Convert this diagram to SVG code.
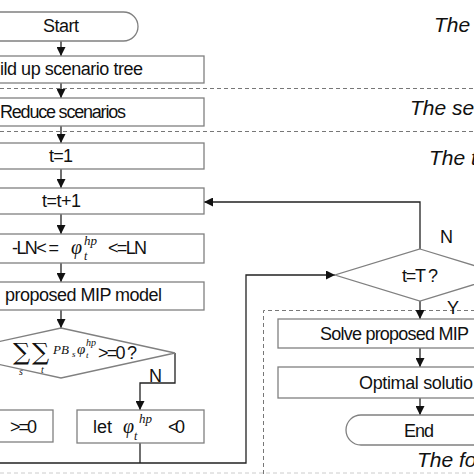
<svg xmlns="http://www.w3.org/2000/svg" width="474" height="474" viewBox="0 0 474 474">
<defs>
<marker id="ah" viewBox="0 0 10 10" refX="10" refY="5" markerWidth="9" markerHeight="9" markerUnits="userSpaceOnUse" orient="auto">
<path d="M0,0 L10,5 L0,10 z" fill="#111"/>
</marker>
</defs>
<style>
.box{fill:#fff;stroke:#808080;stroke-width:1.3}
.conn{fill:none;stroke:#222;stroke-width:1.3}
.dash{fill:none;stroke:#777;stroke-width:1;stroke-dasharray:4 3}
.lt{fill:none;stroke:#ccc;stroke-width:1;stroke-dasharray:4 3}
.t{font-family:"Liberation Sans",Arial,sans-serif;font-size:18px;fill:#111}
.c{text-anchor:middle}
.it{font-family:"Liberation Sans",Arial,sans-serif;font-size:21px;font-style:italic;fill:#111}
.m{font-family:"Liberation Serif","DejaVu Serif",serif;font-style:italic;fill:#111}
.sig{font-family:"DejaVu Serif",serif;font-size:24px;fill:#111}
</style>
<rect width="474" height="474" fill="#fff"/>
<g id="dashes">
<line class="dash" x1="0" y1="88.5" x2="474" y2="88.5"/>
<line class="dash" x1="0" y1="131.5" x2="474" y2="131.5"/>
<polyline class="dash" points="263.5,474 263.5,310.5 474,310.5"/>
<line class="lt" x1="0" y1="473" x2="474" y2="473"/>
</g>
<g id="labels">
<text class="it" x="434" y="32">The f</text>
<text class="it" x="410" y="115">The sec</text>
<text class="it" x="429" y="165">The t</text>
<text class="it" x="417" y="467">The fo</text>
</g>
<g id="connectors">
<line class="conn" x1="61" y1="41" x2="61" y2="56" marker-end="url(#ah)"/>
<line class="conn" x1="61" y1="83" x2="61" y2="98" marker-end="url(#ah)"/>
<line class="conn" x1="61" y1="126" x2="61" y2="143" marker-end="url(#ah)"/>
<line class="conn" x1="61" y1="169" x2="61" y2="188" marker-end="url(#ah)"/>
<line class="conn" x1="61" y1="214" x2="61" y2="234" marker-end="url(#ah)"/>
<line class="conn" x1="61" y1="263" x2="61" y2="282" marker-end="url(#ah)"/>
<line class="conn" x1="61" y1="310" x2="61" y2="328" marker-end="url(#ah)"/>
<polyline class="conn" points="175,353 175,383 140,383 140,410" marker-end="url(#ah)"/>
<line class="conn" x1="140" y1="443" x2="140" y2="463"/>
<polyline class="conn" points="-2,463 246,463 246,275 335,275" marker-end="url(#ah)"/>
<polyline class="conn" points="420,249 420,202 204,202" marker-end="url(#ah)"/>
<line class="conn" x1="420" y1="301" x2="420" y2="319" marker-end="url(#ah)"/>
<line class="conn" x1="420" y1="348" x2="420" y2="367" marker-end="url(#ah)"/>
<line class="conn" x1="420" y1="398" x2="420" y2="415" marker-end="url(#ah)"/>
<text class="t" x="149" y="382">N</text>
<text class="t" x="440" y="243">N</text>
<text class="t" x="447" y="314">Y</text>
</g>
<g id="start">
<rect class="box" x="-20" y="12" width="158" height="29" rx="14.5"/>
<text class="t c" x="61" y="32" textLength="36">Start</text>
</g>
<g id="build">
<rect class="box" x="-10" y="56" width="214" height="27"/>
<text class="t" x="0" y="75" textLength="143">ild up scenario tree</text>
</g>
<g id="reduce">
<rect class="box" x="-10" y="98" width="214" height="28"/>
<text class="t" x="0" y="118" textLength="126">Reduce scenarios</text>
</g>
<g id="t1">
<rect class="box" x="-10" y="143" width="214" height="26"/>
<text class="t c" x="61" y="162" textLength="24">t=1</text>
</g>
<g id="tt1">
<rect class="box" x="-10" y="188" width="214" height="26"/>
<text class="t c" x="61.5" y="207" textLength="39">t=t+1</text>
</g>
<g id="ln">
<rect class="box" x="-10" y="234" width="214" height="29"/>
<text class="t" x="12" y="254" textLength="47">-LN&lt; =</text>
<text class="m" x="71" y="254" font-size="20">φ</text>
<text class="m" x="84" y="245" font-size="13">hp</text>
<text class="m" x="84" y="260" font-size="12">t</text>
<text class="t" x="108" y="254" textLength="39">&lt;=LN</text>
</g>
<g id="mip">
<rect class="box" x="-10" y="282" width="214" height="28"/>
<text class="t" x="5" y="301" textLength="157">proposed MIP model</text>
</g>
<g id="dec1">
<polygon class="box" points="61,328 175,353 61,378 -53,353"/>
<text class="sig" x="13" y="360">∑</text>
<text class="sig" x="32" y="360">∑</text>
<text class="m" x="19" y="375" font-size="10">s</text>
<text class="m" x="41" y="373" font-size="10">t</text>
<text class="m" x="53" y="354" font-size="13">PB</text>
<text class="m" x="72" y="357" font-size="9">s</text>
<text class="m" x="77" y="354" font-size="15">φ</text>
<text class="m" x="86" y="346" font-size="10">hp</text>
<text class="m" x="86" y="358" font-size="9">t</text>
<text class="t" x="98" y="359" textLength="39">&gt;=0 ?</text>
</g>
<g id="ge0">
<rect class="box" x="-10" y="410" width="63" height="32"/>
<text class="t" x="10" y="433" textLength="27">&gt;=0</text>
</g>
<g id="let">
<rect class="box" x="77" y="410" width="127" height="33"/>
<text class="t" x="93" y="433" textLength="19">let</text>
<text class="m" x="123" y="433" font-size="20">φ</text>
<text class="m" x="139" y="423" font-size="13">hp</text>
<text class="m" x="134" y="440" font-size="12">t</text>
<text class="t" x="168" y="433" textLength="17">&lt;0</text>
</g>
<g id="dec2">
<polygon class="box" points="420,249 505,275 420,301 335,275"/>
<text class="t" x="402" y="282" textLength="36">t=T ?</text>
</g>
<g id="solve">
<rect class="box" x="278" y="319" width="220" height="29"/>
<text class="t" x="320" y="340" textLength="149">Solve proposed MIP</text>
</g>
<g id="optimal">
<rect class="box" x="278" y="367" width="220" height="31"/>
<text class="t" x="359" y="389" textLength="114">Optimal solutio</text>
</g>
<g id="end">
<rect class="box" x="346" y="415" width="180" height="30" rx="15"/>
<text class="t c" x="419" y="437" textLength="30">End</text>
</g>
</svg>
